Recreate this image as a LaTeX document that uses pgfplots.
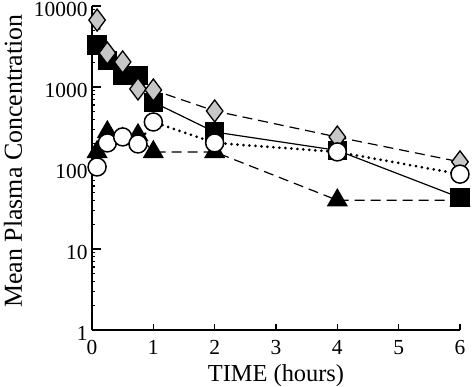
\documentclass[border=0pt]{standalone}
\usepackage{pgfplots}
\pgfplotsset{compat=1.18}
\usepackage{fontspec}
\setmainfont{Liberation Serif}
\begin{document}
\begin{tikzpicture}[x=1bp,y=1bp]
\path[use as bounding box] (-92bp,-57bp) rectangle (382bp,330bp);
\begin{axis}[
  at={(0,0)}, anchor=south west,
  scale only axis, width=368bp, height=324bp,
  xmin=0, xmax=6, ymin=1, ymax=10000,
  ymode=log,
  axis lines=left, axis line style={-, line width=1.3bp},
  xtick={0,1,2,3,4,5,6}, xticklabels={0,1,2,3,4,5,6},
  ytick={1,10,100,1000,10000}, yticklabels={1,10,100,1000,10000},
  minor ytick={}, 
  tick align=inside,
  major tick length=9bp,
  tick style={line width=1.2bp, black},
  x tick style={/pgfplots/major tick length=6bp},
  ticklabel style={font=\fontsize{21.5}{23}\selectfont},
  yticklabel style={xshift=-1bp, yshift=-3bp},
  xticklabel style={yshift=-7bp},
  xlabel={TIME (hours)},
  ylabel={Mean Plasma Concentration},
  xlabel style={font=\fontsize{24.5}{26}\selectfont, yshift=-3bp},
  ylabel style={font=\fontsize{26}{28}\selectfont, yshift=5bp, xshift=7bp},
  clip=false,
]
% triangles
\addplot[black, line width=1.2bp, dash pattern=on 10bp off 6bp,
  mark=triangle*, mark size=11bp, mark options={solid, fill=black}]
  coordinates {(0.083,158) (0.25,278) (0.5,230) (0.75,255) (1,158) (2,158) (4,40) (6,40)};
% squares
\addplot[black, solid, line width=1.2bp,
  mark=square*, mark size=9bp, mark options={solid, fill=black}]
  coordinates {(0.083,3300) (0.25,2100) (0.5,1400) (0.75,1400) (1,650) (2,278) (4,165) (6,43)};
% diamonds
\addplot[black, line width=1.2bp, dash pattern=on 10bp off 6bp,
  mark=diamond*, mark size=11bp, mark options={solid, fill=black!22, line width=1.3bp}]
  coordinates {(0.083,6700) (0.25,2630) (0.5,2040) (0.75,945) (1,918) (2,506) (4,241) (6,119)};
% circles
\addplot[black, line width=3bp, dash pattern=on 0bp off 6bp, line cap=round,
  mark=*, mark size=9bp, mark options={solid, fill=white, line width=1.5bp, line cap=butt}]
  coordinates {(0.083,103) (0.25,204) (0.5,242) (0.75,198) (1,370) (2,204) (4,158) (6,84)};
\end{axis}
\end{tikzpicture}
\end{document}
